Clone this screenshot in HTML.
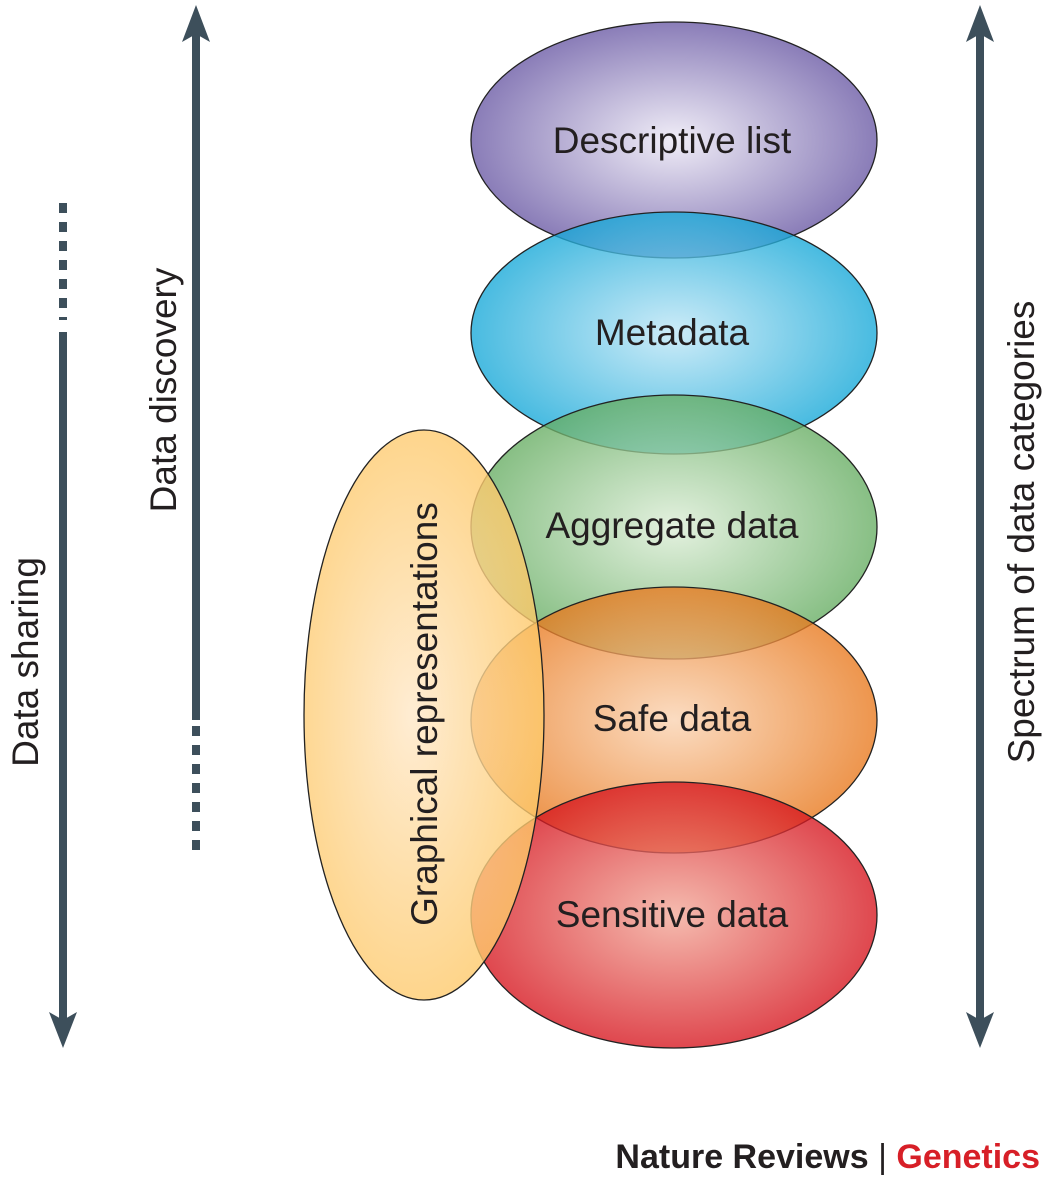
<!DOCTYPE html>
<html><head><style>
body{margin:0;background:#fff;}
svg{display:block;font-family:"Liberation Sans",sans-serif;}
</style></head><body>
<svg width="1050" height="1184" viewBox="0 0 1050 1184">
<defs>
<radialGradient id="gp"><stop offset="0" stop-color="#f0edf7"/><stop offset="1" stop-color="#8a7db8"/></radialGradient>
<radialGradient id="gb"><stop offset="0" stop-color="#bfe6f6"/><stop offset="1" stop-color="#15a8d8"/></radialGradient>
<radialGradient id="gg"><stop offset="0" stop-color="#dcedd6"/><stop offset="1" stop-color="#66ad62"/></radialGradient>
<radialGradient id="go"><stop offset="0" stop-color="#fad2b0"/><stop offset="1" stop-color="#e8781c"/></radialGradient>
<radialGradient id="gr"><stop offset="0" stop-color="#f2a898"/><stop offset="1" stop-color="#d6141d"/></radialGradient>
<radialGradient id="gy" cx="0.45" cy="0.5" r="0.6"><stop offset="0" stop-color="#ffe8c8"/><stop offset="1" stop-color="#fdc55e"/></radialGradient>
</defs>
<g stroke="#222" stroke-width="1.3">
<ellipse cx="674" cy="140" rx="203" ry="118" fill="url(#gp)"/>
<ellipse cx="674" cy="333" rx="203" ry="121" fill="url(#gb)" fill-opacity="0.78"/>
<ellipse cx="674" cy="527" rx="203" ry="132" fill="url(#gg)" fill-opacity="0.78"/>
<ellipse cx="674" cy="720" rx="203" ry="133" fill="url(#go)" fill-opacity="0.78"/>
<ellipse cx="674" cy="915" rx="203" ry="133" fill="url(#gr)" fill-opacity="0.78"/>
<ellipse cx="424" cy="715" rx="120" ry="285" fill="url(#gy)" fill-opacity="0.8"/>
</g>
<g font-size="37" fill="#231f20" text-anchor="middle">
<text x="672" y="153">Descriptive list</text>
<text x="672" y="345">Metadata</text>
<text x="672" y="538">Aggregate data</text>
<text x="672" y="731">Safe data</text>
<text x="672" y="927">Sensitive data</text>
<text transform="translate(437,714) rotate(-90)">Graphical representations</text>
<text transform="translate(38,662) rotate(-90)">Data sharing</text>
<text transform="translate(176,390) rotate(-90)">Data discovery</text>
<text transform="translate(1034,532) rotate(-90)">Spectrum of data categories</text>
</g>
<g stroke="#3d4f5b" stroke-width="8" fill="none">
<line x1="63" y1="203" x2="63" y2="320" stroke-dasharray="10,9"/>
<line x1="63" y1="332" x2="63" y2="1030"/>
<line x1="196" y1="25" x2="196" y2="720"/>
<line x1="196" y1="726" x2="196" y2="850" stroke-dasharray="10,9"/>
<line x1="980" y1="25" x2="980" y2="1030"/>
</g>
<g fill="#3d4f5b">
<polygon points="49,1012 63,1048 77,1012 63,1020"/>
<polygon points="182,42 196,5 210,42 196,34"/>
<polygon points="966,42 980,5 994,42 980,34"/>
<polygon points="966,1012 980,1048 994,1012 980,1020"/>
</g>
<text x="1040" y="1168" text-anchor="end" font-size="34" font-weight="bold" fill="#231f20">Nature Reviews <tspan font-weight="normal">|</tspan> <tspan fill="#d71f27">Genetics</tspan></text>
</svg>
</body></html>
